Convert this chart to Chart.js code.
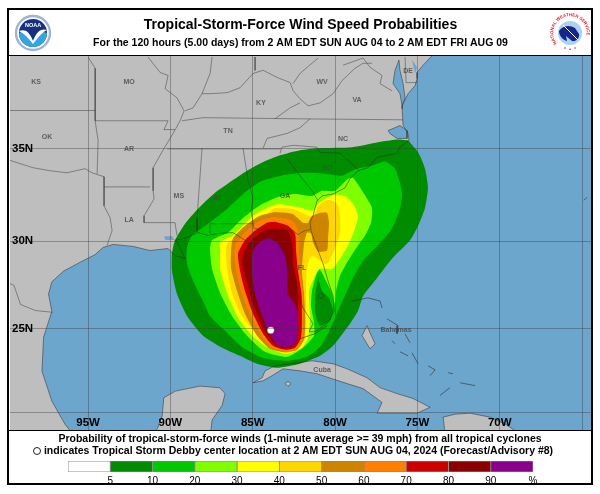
<!DOCTYPE html>
<html lang="en">
<head>
<meta charset="UTF-8">
<title>Tropical-Storm-Force Wind Speed Probabilities</title>
<script src="https://cdn.jsdelivr.net/npm/chart.js@4"></script>
<style>
    html, body { margin: 0; padding: 0; background: #fff; }
    #page { position: relative; width: 600px; height: 494px; overflow: hidden; font-family: "Liberation Sans", Arial, sans-serif; color: #000; }
    #frame { position: absolute; left: 7px; top: 8px; width: 586px; height: 477px; border: 2px solid #000; box-sizing: border-box; pointer-events: none; }
    #mapLine { position: absolute; left: 8px; top: 55px; width: 584px; height: 376px; border: 1px solid #000; box-sizing: border-box; }
    canvas { position: absolute; display: block; }
    .note { position: absolute; left: 0; width: 600px; text-align: center; font-size: 10.5px; font-weight: bold; line-height: 12px; white-space: nowrap; }
    .dot { display: inline-block; width: 6px; height: 6px; border: 1.2px solid #222; border-radius: 50%; margin-right: 3px; vertical-align: -0.5px; }
    svg { position: absolute; }
</style>
</head>
<body>
<div id="page">
    <canvas id="mapChart" width="600" height="494" style="left:0;top:0"></canvas>
    <div id="mapLine"></div>
    <div id="frame"></div>
    <svg style="left:13px;top:13px" width="40" height="40" viewBox="-20 -20 40 40">
        <circle r="17" fill="#fff" stroke="#9db4d8" stroke-width="2.4"/>
        <circle r="14" fill="#17317f"/>
        <path d="M-14 0 A14 14 0 0 0 14 0 C8 -2 5 -3 0 8 C-5 -3 -8 -3 -14 0 Z" fill="#35a4e0"/>
        <path d="M-14 -2 C-8 -4 -4 -2 0 8 C4 -2 8 -5 14 -3 C8 0 4 6 0 11 C-4 6 -8 1 -14 -2 Z" fill="#fff"/>
        <text x="0" y="-6" text-anchor="middle" font-size="5.5" font-weight="bold" fill="#fff" font-family="Liberation Sans">NOAA</text>
    </svg>
    <svg style="left:550px;top:13px" width="40" height="40" viewBox="-20 -20 40 40">
        <defs><path id="ring" d="M-13.2 10.4 A16.8 16.8 0 1 1 13.2 10.4"/></defs>
        <text font-size="4.4" font-weight="bold" fill="#e0202a" font-family="Liberation Sans"><textPath href="#ring">NATIONAL WEATHER SERVICE</textPath></text>
        <circle cx="-5" cy="15" r="0.8" fill="#e0202a"/><circle cx="0" cy="16.4" r="0.8" fill="#e0202a"/><circle cx="5" cy="15" r="0.8" fill="#e0202a"/>
        <circle r="12" fill="#a9d3ee"/>
        <path d="M-11 -2 C-7 -8 0 -8 5 -5 L9 1 C10 5 6 9 2 8 L-4 3 L-3 8 C-7 7 -11 3 -11 -2 Z" fill="#14268c"/>
        <path d="M-7 -8 L8 7" stroke="#fff" stroke-width="1"/>
    </svg>
    <div class="note" style="top:432px">Probability of tropical-storm-force winds (1-minute average &gt;= 39 mph) from all tropical cyclones</div>
    <div class="note" style="top:444px;left:-7px"><span class="dot"></span>indicates Tropical Storm Debby center location at 2 AM EDT SUN AUG 04, 2024 (Forecast/Advisory #8)</div>
    <canvas id="barChart" width="510" height="32" style="left:48px;top:455px"></canvas>
</div>

<script>
    // axis ticks, degrees
    const lonTicks = [-95, -90, -85, -80, -75, -70, -65];
    const lonLabels = ['95W', '90W', '85W', '80W', '75W', '70W', ''];
    const latTicks = [20, 25, 30, 35];
    const latLabels = ['', '25N', '30N', '35N'];

    // probability contours, [lon, lat]
    const prob5 = [[-75.57,35.45],[-74.96,34.82],[-74.54,33.95],[-74.36,32.92],[-74.54,31.83],[-74.96,30.85],[-75.45,30.04],[-76.48,29.07],[-77.45,27.92],[-78.30,26.89],[-78.61,26.03],[-79.27,25.06],[-80.12,23.99],[-80.91,23.40],[-82.13,22.93],[-83.52,22.69],[-84.74,22.93],[-85.77,23.40],[-86.86,23.88],[-88.02,24.59],[-88.99,25.74],[-89.60,27.00],[-89.90,28.32],[-89.90,29.30],[-89.72,30.04],[-89.11,30.96],[-88.32,31.78],[-87.29,32.65],[-86.26,33.30],[-85.35,33.84],[-84.43,34.28],[-83.34,34.66],[-82.13,34.93],[-81.03,35.04],[-78.97,35.09],[-77.15,35.39],[-76.18,35.50]];
    const prob10 = [[-83.04,33.63],[-81.82,33.73],[-80.61,33.68],[-79.58,33.57],[-79.21,33.73],[-78.67,33.95],[-77.76,34.11],[-76.97,34.33],[-76.36,33.95],[-76.06,33.19],[-75.93,32.59],[-76.06,31.78],[-76.54,30.69],[-77.27,29.87],[-78.30,28.89],[-78.91,27.92],[-79.27,27.18],[-79.76,26.15],[-80.25,25.06],[-80.85,23.99],[-81.70,23.34],[-82.92,23.11],[-84.37,23.28],[-85.59,23.88],[-86.56,24.76],[-87.59,25.74],[-88.02,26.60],[-88.62,27.75],[-88.99,28.72],[-88.99,29.64],[-88.69,30.31],[-87.71,30.96],[-86.50,31.83],[-85.35,32.76],[-84.43,33.30]];
    const prob20 = [[-84.43,32.05],[-83.46,32.43],[-82.43,32.59],[-81.40,32.48],[-80.79,32.76],[-80.00,32.76],[-79.21,33.41],[-78.91,33.46],[-78.36,32.76],[-77.76,31.83],[-77.82,31.02],[-78.18,30.31],[-78.61,29.75],[-79.21,28.89],[-79.70,28.04],[-79.94,27.18],[-80.00,26.43],[-80.25,27.18],[-80.61,27.86],[-80.97,28.44],[-81.22,27.86],[-81.40,27.18],[-81.46,26.32],[-81.28,25.34],[-81.28,24.59],[-81.95,23.88],[-82.92,23.34],[-84.25,23.64],[-85.35,24.59],[-86.26,25.74],[-86.98,27.06],[-87.47,28.44],[-87.59,29.58],[-87.47,30.04],[-86.50,30.47],[-85.77,31.13],[-85.04,31.67]];
    const prob30 = [[-83.46,32.05],[-83.04,31.99],[-82.01,31.83],[-81.34,31.67],[-81.03,32.05],[-80.61,32.32],[-80.00,32.54],[-79.40,32.48],[-78.91,32.05],[-78.61,31.40],[-78.79,30.69],[-79.15,29.87],[-79.70,29.01],[-80.18,28.44],[-80.91,28.44],[-81.22,28.04],[-81.58,27.18],[-81.52,25.63],[-81.64,24.47],[-82.01,23.88],[-82.92,23.52],[-84.07,23.88],[-85.04,24.59],[-85.95,25.74],[-86.56,27.06],[-86.98,28.44],[-86.98,29.47],[-86.98,29.93],[-86.20,30.31],[-85.59,30.85],[-84.98,31.40],[-84.25,31.78]];
    const prob40 = [[-83.65,31.83],[-82.61,31.78],[-82.01,31.56],[-81.40,31.34],[-81.10,31.78],[-81.03,31.94],[-80.43,32.27],[-79.88,32.05],[-79.70,31.40],[-79.70,30.47],[-80.00,29.58],[-80.43,28.78],[-80.61,28.72],[-81.34,29.18],[-81.52,29.07],[-81.70,28.49],[-81.76,27.75],[-81.76,26.60],[-81.76,25.46],[-81.82,24.47],[-82.13,23.93],[-82.92,23.58],[-83.83,23.99],[-84.86,24.76],[-85.77,25.92],[-86.26,27.06],[-86.56,28.44],[-86.62,29.58],[-86.50,29.93],[-85.95,30.20],[-85.28,30.74],[-84.56,31.23]];
    const prob50 = [[-83.65,31.61],[-82.61,31.51],[-81.95,31.02],[-81.64,31.02],[-81.46,31.34],[-80.91,31.56],[-80.49,31.56],[-80.37,31.02],[-80.43,30.15],[-80.49,29.47],[-81.03,29.41],[-81.34,29.93],[-81.46,30.42],[-81.70,30.47],[-81.88,29.87],[-82.01,28.32],[-81.88,27.00],[-81.82,25.63],[-81.88,24.41],[-82.31,23.76],[-83.04,23.61],[-83.95,23.82],[-84.74,24.59],[-85.47,25.86],[-85.95,27.18],[-86.32,28.49],[-86.32,29.35],[-86.20,30.15],[-85.47,30.85],[-84.56,31.40]];
    const prob60 = [[-83.65,31.34],[-82.61,31.13],[-82.25,30.58],[-82.19,29.64],[-82.13,28.32],[-81.95,27.00],[-81.95,25.63],[-81.95,24.41],[-82.31,23.76],[-83.04,23.67],[-83.83,23.88],[-84.56,24.70],[-85.28,26.03],[-85.77,27.35],[-86.07,28.72],[-86.07,29.75],[-85.35,30.58],[-84.56,31.13]];
    const prob70 = [[-83.65,31.07],[-82.86,30.85],[-82.43,30.42],[-82.37,29.47],[-82.25,28.32],[-82.04,27.00],[-82.01,25.63],[-82.07,24.47],[-82.43,23.88],[-83.04,23.76],[-83.77,23.99],[-84.37,24.70],[-84.98,25.86],[-85.47,27.18],[-85.77,28.32],[-85.89,29.30],[-85.47,30.04],[-84.86,30.58],[-84.13,31.02]];
    const prob80 = [[-83.52,30.69],[-82.86,30.53],[-82.61,29.87],[-82.55,28.72],[-82.31,27.58],[-82.25,26.43],[-82.31,25.29],[-82.31,24.29],[-82.61,23.93],[-83.16,23.85],[-83.65,24.11],[-84.13,24.70],[-84.56,25.46],[-85.04,26.60],[-85.41,27.92],[-85.65,28.89],[-85.35,29.75],[-84.74,30.31],[-84.13,30.64]];
    const prob90 = [[-83.95,30.15],[-83.46,29.87],[-83.04,29.18],[-82.92,28.44],[-82.92,27.63],[-82.86,27.00],[-82.43,26.43],[-82.25,25.74],[-82.25,24.76],[-82.43,24.11],[-82.86,23.93],[-83.46,23.99],[-83.83,24.47],[-84.13,25.00],[-84.43,25.74],[-84.86,27.00],[-85.04,28.21],[-85.04,29.18],[-84.86,29.64],[-84.43,30.04]];
    // lower values again over the Florida peninsula
    const lowCore = [[-81.03,27.92],[-80.79,27.18],[-80.37,26.78],[-80.12,26.03],[-80.30,25.46],[-80.91,25.17],[-81.16,25.74],[-81.22,26.60],[-81.16,27.29]];
    const stormCenter = [[-83.91,24.90]];

    // land
    const mainland = [[-74.00,39.90],[-74.13,39.75],[-74.66,39.29],[-75.02,38.93],[-75.02,38.63],[-75.14,38.27],[-75.57,37.86],[-75.93,37.24],[-75.93,37.09],[-75.87,36.22],[-75.57,35.81],[-75.51,35.45],[-76.06,35.09],[-76.24,34.77],[-77.45,34.55],[-78.00,34.00],[-78.61,33.84],[-79.09,33.41],[-79.40,32.92],[-80.12,32.59],[-80.79,32.48],[-81.10,32.21],[-81.34,31.40],[-81.52,31.02],[-81.46,30.58],[-81.03,29.47],[-80.73,28.72],[-80.43,27.75],[-80.12,26.89],[-80.06,26.03],[-80.49,25.29],[-81.22,24.82],[-81.58,24.82],[-81.34,25.29],[-81.95,26.20],[-82.25,27.00],[-82.55,27.86],[-82.73,27.92],[-82.92,29.01],[-83.46,29.87],[-84.13,30.15],[-84.98,29.75],[-85.47,30.04],[-86.20,30.47],[-87.11,30.42],[-87.71,30.31],[-88.32,30.47],[-89.11,30.15],[-89.72,30.04],[-89.54,29.87],[-89.29,29.35],[-89.11,29.01],[-89.72,29.18],[-90.14,29.58],[-91.24,29.47],[-92.27,29.70],[-93.48,29.81],[-94.09,29.64],[-94.57,29.24],[-95.50,28.80],[-96.50,28.30],[-97.20,27.70],[-97.40,27.00],[-97.20,26.00],[-97.70,24.50],[-97.80,22.50],[-97.20,20.70],[-96.40,19.30],[-96.00,18.80],[-102,18.80],[-102,41],[-74.00,41]];
    const yucatan = [[-91.00,18.50],[-90.50,19.80],[-90.40,20.90],[-89.70,21.30],[-88.20,21.60],[-87.00,21.50],[-86.68,21.15],[-86.86,20.44],[-87.47,19.56],[-87.59,18.50]];
    const cuba = [[-84.98,21.80],[-84.43,22.10],[-84.25,22.51],[-83.65,22.81],[-82.31,22.99],[-81.40,23.11],[-80.12,22.93],[-79.27,22.63],[-78.06,22.10],[-77.27,21.51],[-76.24,21.15],[-75.27,20.86],[-74.23,20.33],[-75.02,19.97],[-77.45,19.97],[-77.15,20.62],[-78.30,21.45],[-79.27,21.75],[-80.18,22.04],[-81.10,22.34],[-82.13,22.51],[-83.16,22.63],[-83.83,22.22],[-84.37,21.92],[-84.98,21.80]];
    const juventud = [[-83.03,21.75],[-82.86,21.89],[-82.68,21.75],[-82.86,21.58],[-83.03,21.75]];
    const hispaniola = [[-73.44,19.73],[-72.72,19.91],[-71.80,19.97],[-70.59,19.73],[-69.68,19.32],[-68.77,18.70],[-73.32,18.70]];
    const andros = [[-78.06,25.17],[-78.36,24.59],[-77.88,23.82],[-77.57,24.11],[-77.88,24.76],[-78.06,25.17]];

    // water inside the land outline
    const chesapeake = [[-76.12,39.55],[-76.36,39.04],[-76.48,38.37],[-76.06,37.86],[-75.93,37.24],[-75.75,37.65],[-75.87,38.37],[-76.06,39.04]];
    const delawareBay = [[-75.33,39.55],[-75.02,39.19],[-75.14,38.88]];
    const pamlico = [[-76.78,35.96],[-76.06,36.22],[-75.63,35.96],[-75.63,35.55],[-76.24,35.55],[-76.66,35.80]];
    const pontchartrain = [[-90.40,30.25],[-89.90,30.28],[-89.75,30.06],[-90.30,30.06]];
    const okeechobee = [[-81.03,26.90],[-80.85,27.08],[-80.67,26.90],[-80.85,26.72],[-81.03,26.90]];

    // state and country borders
    const borders = [
        [[-99.74,37.00],[-94.57,37.00]],
        [[-95.00,39.70],[-94.57,39.14],[-94.57,36.47],[-90.14,36.47],[-90.39,36.01],[-89.72,36.01]],
        [[-94.57,36.47],[-94.39,35.45],[-94.45,33.68]],
        [[-99.74,34.39],[-99.13,34.22],[-98.34,34.00],[-97.31,33.84],[-96.28,33.73],[-95.18,33.95],[-94.76,33.73],[-94.03,33.52],[-94.03,32.97],[-91.24,32.97]],
        [[-94.03,32.97],[-94.03,31.94],[-93.66,31.29],[-93.54,30.58],[-93.85,29.75]],
        [[-91.36,39.70],[-90.63,38.93],[-90.14,38.78],[-90.32,38.11],[-89.60,37.65],[-89.17,36.98],[-89.41,36.47],[-89.84,35.81],[-90.45,34.93],[-91.05,34.00],[-91.05,32.76],[-90.99,32.32],[-91.60,31.40],[-91.60,31.02],[-89.72,31.02],[-89.60,30.31]],
        [[-88.08,35.04],[-88.38,31.29],[-88.38,30.53]],
        [[-90.20,35.00],[-83.30,35.00]],
        [[-85.59,35.04],[-85.28,33.30],[-84.98,32.37],[-85.10,31.67],[-84.92,30.69],[-82.55,30.58],[-82.25,30.36],[-81.82,30.58],[-81.52,30.64]],
        [[-87.59,30.42],[-87.59,30.96],[-84.98,30.96]],
        [[-82.92,34.49],[-82.13,33.57],[-81.40,32.76],[-81.03,32.21]],
        [[-84.37,35.04],[-84.13,35.55],[-82.92,35.81],[-82.13,36.11],[-81.52,36.57]],
        [[-83.34,34.77],[-83.22,35.09],[-82.55,35.19],[-81.10,35.09],[-80.91,34.82],[-79.70,34.77],[-78.61,33.90]],
        [[-89.29,36.47],[-88.02,36.63],[-82.13,36.57],[-75.87,36.52]],
        [[-89.11,36.98],[-88.62,37.14],[-88.08,37.86],[-87.59,37.86],[-86.56,37.91],[-85.77,38.16],[-84.98,38.88],[-84.37,39.04],[-83.52,38.68],[-82.73,38.42],[-82.55,38.01],[-82.13,37.60],[-81.64,37.24],[-80.91,37.39],[-80.12,37.86],[-79.58,38.52],[-78.79,39.14],[-78.30,39.39],[-77.76,39.39]],
        [[-83.65,36.57],[-82.73,37.14],[-82.13,37.39]],
        [[-87.47,39.70],[-87.59,38.88],[-88.08,37.86]],
        [[-84.86,39.70],[-84.86,39.03]],
        [[-82.55,38.37],[-82.13,38.88],[-81.03,39.65]],
        [[-79.52,39.29],[-78.30,39.65],[-77.88,39.19],[-77.15,38.78],[-77.27,38.37],[-76.54,38.00]],
        [[-75.75,39.70],[-75.69,38.42],[-75.02,38.42]],
        [[-99.74,27.60],[-99.50,27.50],[-99.10,26.40],[-98.20,26.05],[-97.15,25.95]]
    ];
    // small islands drawn as a stroke only
    const islets = [
        [[-78.97,26.60],[-78.00,26.78],[-77.27,26.60],[-77.15,26.20]],
        [[-76.84,25.57],[-76.18,25.17],[-76.24,24.70]],
        [[-75.75,24.70],[-75.45,24.17]],
        [[-76.06,23.64],[-75.57,23.40]],
        [[-75.33,23.58],[-74.96,22.93]],
        [[-74.35,22.81],[-73.93,22.57],[-74.23,22.22]],
        [[-73.14,22.40],[-72.84,22.34]],
        [[-72.41,21.80],[-71.50,21.63]],
        [[-73.63,21.04],[-73.02,21.51]],
        [[-76.54,24.29],[-76.36,24.11]],
        [[-82.13,24.41],[-81.22,24.70],[-80.49,25.17]],
        [[-64.90,32.25],[-64.70,32.40]]
    ];

    // place names
    const placeNames = ['KS','MO','KY','OK','AR','TN','MS','AL','LA','GA','SC','NC','VA','WV','DE','FL','Cuba','Bahamas'];
    const placeLons = [-98.16,-92.51,-84.50,-97.49,-92.51,-86.50,-89.49,-87.11,-92.51,-83.04,-80.49,-79.52,-78.67,-80.79,-75.57,-82.01,-80.79,-76.30];
    const placeLats = [38.47,38.47,37.39,35.60,34.98,35.96,32.48,32.38,31.18,32.48,34.00,35.50,37.55,38.47,38.98,28.49,22.57,24.94];

    // color bar
    const barColors = ['#FFFFFF','#008B00','#00C800','#7FFF00','#FFFF00','#FFD700','#CD8500','#FF7F00','#CD0000','#8B0000','#8B008B'];
    const barLabels = ['','5','10','20','30','40','50','60','70','80','90','%'];

    const oceanColor = '#6CA6CD';
    const landColor = '#BEBEBE';
    const lineColor = 'rgba(45,45,45,0.75)';

    // Mercator y, the map is in this projection
    function merc(lat) {
        return Math.log(Math.tan(Math.PI / 4 + lat * Math.PI / 360));
    }
    function toXY(pairs) {
        return pairs.map(p => ({ x: p[0], y: merc(p[1]) }));
    }
    function closed(pairs) {
        return pairs.concat([pairs[0]]);
    }

    const layers = [];
    function addArea(pairs, color, tension) {
        layers.push({ data: toXY(closed(pairs)), showLine: true, fill: 'shape', backgroundColor: color, borderColor: color, borderWidth: 0, pointRadius: 0, tension: tension || 0 });
    }
    function addLine(pairs, width) {
        layers.push({ data: toXY(pairs), showLine: true, fill: false, borderColor: lineColor, borderWidth: width, pointRadius: 0 });
    }

    // painted bottom to top
    [mainland, yucatan, cuba, juventud, hispaniola, andros].forEach(p => addArea(p, landColor));
    [chesapeake, delawareBay, pamlico, pontchartrain].forEach(p => addArea(p, oceanColor));
    [prob5, prob10, prob20, prob30, prob40, prob50, prob60, prob70, prob80, prob90].forEach((p, i) => addArea(p, barColors[i + 1], 0.2));
    addArea(lowCore, barColors[1], 0.2);
    [mainland, yucatan, cuba, juventud, hispaniola, andros, chesapeake, pamlico].forEach(p => addLine(closed(p), 0.7));
    borders.forEach(p => addLine(p, 0.6));
    islets.forEach(p => addLine(p, 0.8));
    addLine(okeechobee, 0.7);
    layers.push({ data: toXY(stormCenter), pointRadius: 3.5, pointBackgroundColor: '#fff', pointBorderColor: '#555', pointBorderWidth: 0.4, showLine: false });
    layers.forEach((d, i) => { d.order = layers.length - i; });

    const mapDecor = {
        id: 'mapDecor',
        beforeDatasetsDraw(chart) {
            const a = chart.chartArea;
            chart.ctx.fillStyle = oceanColor;
            chart.ctx.fillRect(a.left, a.top, a.right - a.left, a.bottom - a.top);
        },
        afterDatasetsDraw(chart) {
            const ctx = chart.ctx;
            ctx.save();
            ctx.font = 'bold 7px "Liberation Sans"';
            ctx.textAlign = 'center';
            ctx.textBaseline = 'middle';
            ctx.fillStyle = 'rgba(70,70,70,0.8)';
            placeNames.forEach((name, i) => {
                ctx.fillText(name, chart.scales.x.getPixelForValue(placeLons[i]), chart.scales.y.getPixelForValue(merc(placeLats[i])));
            });
            ctx.restore();
        }
    };

    const gridStyle = { color: 'rgba(60,60,60,0.4)', lineWidth: 1, drawTicks: false, z: 1 };

    new Chart(document.getElementById('mapChart'), {
        type: 'scatter',
        data: { datasets: layers },
        plugins: [mapDecor],
        options: {
            responsive: false,
            animation: false,
            layout: { padding: { left: 10, right: 9, top: 8, bottom: 64 } },
            plugins: {
                legend: { display: false },
                tooltip: { enabled: false },
                title: {
                    display: true,
                    text: 'Tropical-Storm-Force Wind Speed Probabilities',
                    color: '#000',
                    font: { family: 'Liberation Sans', size: 14, weight: 'bold', lineHeight: 1.2 },
                    padding: { top: 9, bottom: 0 }
                },
                subtitle: {
                    display: true,
                    text: 'For the 120 hours (5.00 days) from 2 AM EDT SUN AUG 04 to 2 AM EDT FRI AUG 09',
                    color: '#000',
                    font: { family: 'Liberation Sans', size: 10.5, weight: 'bold', lineHeight: 1.2 },
                    padding: { top: 2.9, bottom: 6.7 }
                }
            },
            scales: {
                x: {
                    type: 'linear',
                    min: -99.74,
                    max: -64.46,
                    grid: gridStyle,
                    border: { display: false },
                    afterBuildTicks: s => { s.ticks = lonTicks.map(v => ({ value: v })); },
                    afterFit: s => { s.height = 0; },
                    ticks: {
                        z: 2, mirror: true, padding: 0, autoSkip: false, maxRotation: 0, color: '#000',
                        font: { family: 'Liberation Sans', size: 11.5, weight: 'bold' },
                        callback: (v, i) => lonLabels[i]
                    }
                },
                y: {
                    type: 'linear',
                    min: merc(18.95),
                    max: merc(39.75),
                    grid: gridStyle,
                    border: { display: false },
                    afterBuildTicks: s => { s.ticks = latTicks.map(v => ({ value: merc(v) })); },
                    afterFit: s => { s.width = 0; },
                    ticks: {
                        z: 2, mirror: true, padding: 2, autoSkip: false, color: '#000',
                        font: { family: 'Liberation Sans', size: 11.5, weight: 'bold' },
                        callback: (v, i) => latLabels[i]
                    }
                }
            }
        }
    });

    new Chart(document.getElementById('barChart'), {
        type: 'bar',
        data: {
            labels: [''],
            datasets: barColors.map(c => ({ data: [1], backgroundColor: c, borderColor: '#8a8a8a', borderWidth: 0.8, borderSkipped: false, barPercentage: 1, categoryPercentage: 1 }))
        },
        options: {
            indexAxis: 'y',
            responsive: false,
            animation: false,
            layout: { padding: { left: 20, right: 25, top: 6, bottom: 0 } },
            plugins: { legend: { display: false }, tooltip: { enabled: false } },
            scales: {
                x: {
                    type: 'linear',
                    stacked: true,
                    min: 0,
                    max: barColors.length,
                    grid: { display: false, drawTicks: false },
                    border: { display: false },
                    afterFit: s => { s.height = 15; },
                    ticks: {
                        stepSize: 1, padding: 3, autoSkip: false, maxRotation: 0, color: '#000',
                        font: { family: 'Liberation Sans', size: 10 },
                        callback: v => barLabels[v]
                    }
                },
                y: { stacked: true, display: false }
            }
        }
    });
</script>
</body>
</html>
